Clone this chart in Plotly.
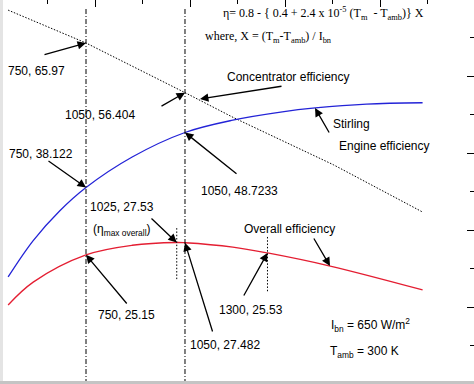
import plotly.graph_objects as go

# ---------------- data ----------------
temp_stirling = [514, 590, 670, 750, 890, 1050, 1195, 1345, 1445, 1600, 1770]
eff_stirling = [20.9, 27.9, 33.6, 38.122, 44.0, 48.7233, 51.1, 52.7, 53.45, 54.2, 54.45]

temp_overall = [514, 590, 750, 890, 1025, 1050, 1195, 1300, 1490, 1770]
eff_overall = [15.5, 19.9, 25.15, 27.0, 27.53, 27.482, 26.65, 25.53, 23.0, 18.4]

temp_conc = [514, 750, 1050, 1200, 1500, 1770]
eff_conc = [72.3, 65.97, 56.404, 51.5, 42.5, 33.4]

ref_temps = [750, 1050]          # dash-dot reference lines
short_marks = [(1025, 30.3, 20.3), (1300, 28.6, 18.0)]  # dotted marker lines

labels = ["750, 65.97", "1050, 56.404", "750, 38.122", "1050, 48.7233",
          "1025, 27.53", "750, 25.15", "1050, 27.482", "1300, 25.53"]

# ---------------- geometry helpers ----------------
W, H = 474, 384
XR = [489.4, 1925.8]
YR = [0.27, 74.25]


def tx(px):
    return XR[0] + px / W * (XR[1] - XR[0])


def vy(py):
    return YR[1] - py / H * (YR[1] - YR[0])


fig = go.Figure()

fig.add_trace(go.Scatter(x=temp_conc, y=eff_conc, mode="lines",
                         line=dict(color="black", width=1, dash="1.5px,1.6px"),
                         hoverinfo="skip"))
fig.add_trace(go.Scatter(x=temp_stirling, y=eff_stirling, mode="lines",
                         line=dict(color="rgb(35,35,215)", width=1.3, shape="spline",
                                   smoothing=1.0),
                         hoverinfo="skip"))
fig.add_trace(go.Scatter(x=temp_overall, y=eff_overall, mode="lines",
                         line=dict(color="rgb(228,30,50)", width=1.3, shape="spline",
                                   smoothing=1.0),
                         hoverinfo="skip"))
# invisible trace to activate secondary axes for the frame ticks
fig.add_trace(go.Scatter(x=[0], y=[0], xaxis="x2", yaxis="y2", mode="markers",
                         marker=dict(opacity=0), hoverinfo="skip"))

shapes = []
for t in ref_temps:
    shapes.append(dict(type="line", xref="x", yref="paper", x0=t, x1=t,
                       y0=0, y1=1 - 8 / H,
                       line=dict(color="black", width=1, dash="5px,2px,1px,2px")))
for t, y0, y1 in short_marks:
    shapes.append(dict(type="line", xref="x", yref="y", x0=t, x1=t, y0=y0, y1=y1,
                       line=dict(color="black", width=1, dash="1.5px,1.8px")))
# image border strips
shapes.append(dict(type="rect", xref="paper", yref="paper", x0=0, x1=3 / W, y0=0, y1=1,
                   fillcolor="#e4e4e4", line=dict(width=0)))
shapes.append(dict(type="rect", xref="paper", yref="paper", x0=0, x1=1, y0=0, y1=3 / H,
                   fillcolor="#c4c4c4", line=dict(width=0)))

ann = []
SANS = "Liberation Sans, Arial, sans-serif"
SERIF = "Liberation Serif, Times New Roman, serif"


def text(s, cx, cy, size=12, fam=SANS):
    ann.append(dict(x=tx(cx), y=vy(cy), xref="x", yref="y", text=s, showarrow=False,
                    font=dict(family=fam, size=size, color="black"),
                    xanchor="center", yanchor="middle"))


def arrow(hx, hy, tail_px):
    ann.append(dict(x=hx, y=hy, xref="x", yref="y", ax=tx(tail_px[0]), ay=vy(tail_px[1]),
                    axref="x", ayref="y", text="", showarrow=True, arrowhead=2,
                    arrowsize=1.3, arrowwidth=1.3, arrowcolor="black", standoff=0))


# labels
text(labels[0], 36, 71)
text(labels[1], 100, 115)
text("Concentrator efficiency", 288, 77)
text("Stirling", 351, 124)
text("Engine efficiency", 384, 146)
text(labels[2], 41, 154)
text(labels[3], 239, 191)
text(labels[4], 122, 207)
text("(η<sub>max overall</sub>)", 122, 230)
text("Overall efficiency", 289, 229)
text(labels[5], 126, 315)
text(labels[7], 251, 310)
text(labels[6], 225, 345)
text("I<sub>bn</sub> = 650 W/m<sup>2</sup>", 370, 325)
text("T<sub>amb</sub> = 300 K", 364, 352)
text("η= 0.8 - { 0.4 + 2.4 x 10<sup>-5</sup> (T<sub>m</sub>  - T<sub>amb</sub>)} X",
     323, 13, size=12, fam=SERIF)
text("where, X = (T<sub>m</sub>-T<sub>amb</sub>) / I<sub>bn</sub>", 268, 37, size=12, fam=SERIF)

# arrows (head at data point, tail near the label)
arrow(750, 65.97, (43, 55))
arrow(1050, 56.404, (160, 107))
arrow(tx(200), vy(99), (283, 86))
arrow(tx(315), vy(108), (330, 134))
arrow(750, 38.122, (47, 160))
arrow(1050, 48.7233, (238, 175))
arrow(1025, 27.53, (150, 217))
arrow(750, 25.15, (128, 305))
arrow(1050, 27.482, (213, 333))
arrow(1300, 25.53, (243, 297))
arrow(tx(330), vy(266), (313, 237))

fig.update_layout(
    width=W, height=H, margin=dict(l=0, r=0, t=0, b=0),
    paper_bgcolor="white", plot_bgcolor="white", showlegend=False,
    shapes=shapes, annotations=ann,
    xaxis=dict(range=XR, showgrid=False, zeroline=False, showline=False,
               showticklabels=False, ticks=""),
    yaxis=dict(range=YR, showgrid=False, zeroline=False, showline=False,
               showticklabels=False, ticks=""),
    xaxis2=dict(overlaying="x", side="top", range=[0, W / 95], showgrid=False,
                zeroline=False, showline=False, showticklabels=False,
                ticks="inside", tick0=0, dtick=1, ticklen=7, tickwidth=1.4,
                tickcolor="black",
                minor=dict(ticks="inside", dtick=0.5, tick0=0, ticklen=4,
                           tickwidth=1.4, tickcolor="black", showgrid=False)),
    yaxis2=dict(overlaying="y", side="right", range=[0, H / 77], showgrid=False,
                zeroline=False, showline=False, showticklabels=False,
                ticks="inside", tick0=0, dtick=1, ticklen=7, tickwidth=1.4,
                tickcolor="black",
                minor=dict(ticks="inside", dtick=0.5, tick0=0, ticklen=4,
                           tickwidth=1.4, tickcolor="black", showgrid=False)),
)

fig.write_html("out.html", config={"displayModeBar": False},
               post_script="document.body.style.margin='0';document.body.style.overflow='hidden';")
